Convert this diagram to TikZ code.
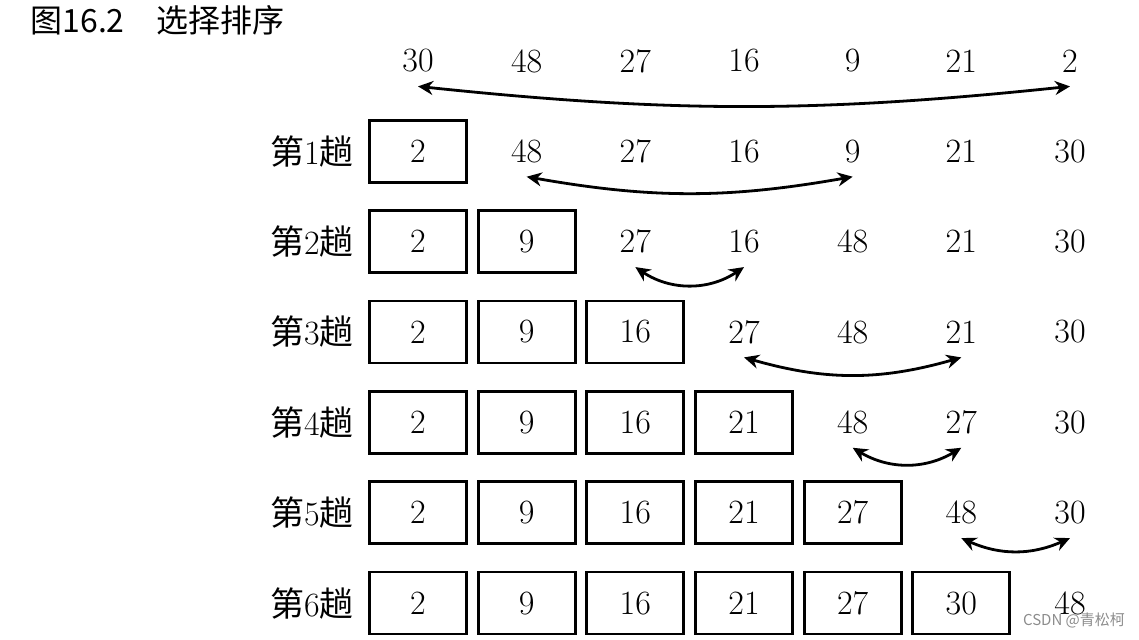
\documentclass[tikz,border=0pt]{standalone}
\usepackage{fontspec}
\newfontfamily\cjk{Noto Sans CJK SC}
\usetikzlibrary{arrows.meta,positioning}
\tikzstyle{num}=[minimum height=25pt,inner sep=0pt,font=\fontsize{17}{20}\selectfont]
\tikzstyle{sorted}=[num,draw,line width=1.4pt,minimum width=48.5pt,minimum height=31pt]
\tikzstyle{rowlabel}=[inner sep=0pt,font=\fontsize{17}{20}\selectfont]
\tikzstyle{exch}=[draw,line width=1.4pt,{Stealth[length=7.5pt,width=7pt]}-{Stealth[length=7.5pt,width=7pt]}]

\begin{document}
\begin{tikzpicture}[x=54.33pt,y=-45.17pt]
    \useasboundingbox (-3.847,-0.675) rectangle (6.635,6.399);

    \node[anchor=west,inner sep=0pt,font=\cjk\fontsize{16}{18}\selectfont] (title) at (-3.570,-0.454) {图16.2　选择排序};

    % one row per pass, sorted part boxed
    \foreach \r/\vals in {0/{30,48,27,16,9,21,2}, 1/{2,48,27,16,9,21,30},
                          2/{2,9,27,16,48,21,30}, 3/{2,9,16,27,48,21,30},
                          4/{2,9,16,21,48,27,30}, 5/{2,9,16,21,27,48,30},
                          6/{2,9,16,21,27,30,48}}
        \foreach \v [count=\c from 0] in \vals {
            \ifnum\c<\r \def\sty{sorted}\else\def\sty{num}\fi
            \node[\sty] (n\r-\c) at (\c,\r) {\v};
        }

    \foreach \r in {1,...,6}
        \node[rowlabel, left=7pt of n\r-0] (lab\r) {{\cjk 第}\r{\cjk 趟}};

    % swaps
    \foreach \r/\a/\b/\ang in {0/0/6/6, 1/1/4/10, 2/2/3/34, 3/3/5/16, 4/4/5/31, 5/5/6/24}
        \draw[exch] (n\r-\a.south) to[bend right=\ang] (n\r-\b.south);

    \node[inner sep=0pt,text=black!45,font=\cjk\fontsize{7.5}{9}\selectfont] (mark) at (6.037,6.188) {CSDN @青松柯};

\end{tikzpicture}
\end{document}
